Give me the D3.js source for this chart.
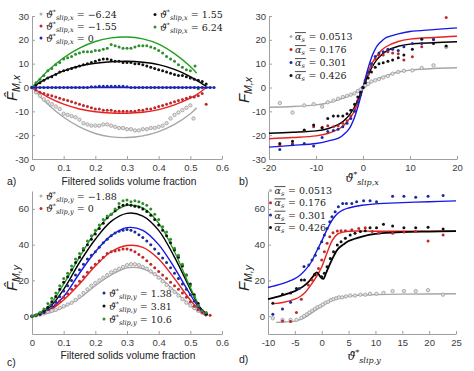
<!DOCTYPE html>
<html>
<head>
<meta charset="utf-8">
<script src="https://cdn.jsdelivr.net/npm/d3@7"></script>
<style>
body { margin: 0; background: #fff; }
.axis path, .axis line { stroke: #a0a0a0; stroke-width: 1; }
.axis text { font-family: "Liberation Sans", Arial, sans-serif; font-size: 9.5px; fill: #3c3c3c; }
</style>
</head>
<body>
<script>
//colours of the series (gray, red, blue, black, green)
var lineCol = { gray: "#a6a6a6", red: "#e8221e", blue: "#1616e8", black: "#000000", green: "#22a022" };
var dotCol = { gray: "#b4b4b4", red: "#c0282d", blue: "#1c2a9c", black: "#111111", green: "#2f8f2f" };

//---------- panel a : F_M,x vs filtered solids fraction ----------
var aStep = 0.0125; //spacing of the filtered fraction bins
var aGreen = [0,2,3.5,5,7,8,9.5,10.5,12,12.5,13,14,14.5,15,15,15,15.5,15.5,16,16.5,18,17.5,17,16.5,16.5,16.5,17,17.5,17.5,17.5,17,16.5,15.5,14.5,13,12,11,9.5,8.5,7.5,7];
var aBlack = [0,1,2,3,4,4.5,5.5,6.5,7,7.5,8,8.5,9,9.5,10,10.5,11,11.5,12,12,11.5,11,11,10.5,10.5,10.5,10,10,9.5,9,8.5,8,7.5,7,6.5,6,5.5,5,5,4.5,4];
var aRed = [0,-1,-2,-2.5,-3,-3.5,-4,-4.5,-5,-5.5,-6,-6.5,-7,-7.5,-8,-8.5,-9,-9,-9.5,-9.5,-9.5,-10,-10,-10,-10,-10,-10,-9.5,-9.5,-9,-9,-8.5,-8,-7.5,-7,-6.5,-6,-5.5,-5,-4.5,-4];
var aGray = [0,-2,-3.5,-5,-6,-7,-8,-9,-11,-11.5,-12,-12.5,-13.5,-15,-15.5,-16,-16,-16,-15.5,-15.5,-16,-16.5,-17,-17,-17.5,-17.5,-18,-18,-17.5,-17.5,-17,-17,-16.5,-16,-15,-13,-11.5,-10.5,-9.5,-8.5,-7.5];
var aBlue = [0,0,0,0,0,0,0,0,0,0,0,0,0,0,0,0.3,0.3,0.5,0.5,0.5,0.5,0.5,0.5,0.5,0.3,0,0,0,0,0,0,0,0,0,0,0,0,0,0,0,0,0,0,0,0,0,0];
//extra points beyond the regular bins
var aGreenEnd = [[0.515, 9], [0.525, -0.5]];
var aBlackEnd = [[0.5125, 3.5], [0.525, 3], [0.5375, 2.5], [0.55, 1.5]];
var aRedEnd = [[0.5125, -4], [0.525, -3.5], [0.5375, -2.5], [0.55, -7]];
var aGrayEnd = [[0.51, -13]];
//model curves
var aCurveX = [0, 0.05, 0.1, 0.15, 0.2, 0.25, 0.3, 0.35, 0.4, 0.45, 0.5, 0.52, 0.55];
var aCurveGreen = [0, 7, 12.5, 16.5, 19.3, 20.8, 21.2, 20.4, 18.2, 14.2, 8.8, 6, null];
var aCurveGray = [0, -7, -12.5, -16.5, -19.3, -20.7, -21, -20.3, -18.5, -15.5, -11, -8.5, null];
var aCurveBlack = [0, 4, 7, 9, 10.2, 10.8, 11, 10.6, 9.6, 7.6, 4.6, 3, 0.5];
var aCurveRed = [0, -4, -7, -9, -10.2, -10.7, -10.8, -10.4, -9.3, -7.3, -4.5, -3, 0];
var aCurveBlue = [0, 0, 0, 0, 0, 0, 0, 0, 0, 0, 0, 0, 0];

//---------- panel b : F_M,x vs slip velocity ----------
var bX = [-17.7,-15,-12.5,-10.5,-8.7,-7.5,-6.3,-5.3,-4.3,-3.4,-2.6,-1.8,-1.1,-0.5,0,0.5,1.1,1.8,2.6,3.4,4.3,5.3,6.3,7.5,8.7,10.5,12.5,15,17.7];
var bGray = [-6.5,-10.5,-7.5,-7,-8,-6.2,-5.5,-4.7,-4,-3.5,-3,-2.5,-1.5,-0.8,0,0.8,1.5,2.5,3,3.5,4.2,4.8,5.8,6.5,7,7.2,8.2,9.3,17];
var bRed = [-24,-23.5,-18,-16.5,-16.7,-16,-16.5,-16,-15,-14,-12,-9,-5.5,-2.5,0,2.5,5.5,9,12,13.5,13.6,15,14.5,14.2,11.5,12.9,17.1,20,29.4];
var bBlue = [-26,-24,-23.5,-24.5,-21,-18.5,-18,-17.5,-16.5,-15,-13,-10,-6,-3,0,3,6.5,10,13,14.5,15,16,16,15.5,17.1,18.5,18.5,20.2,null];
var bBlack = [-23.5,-22.5,-17.8,-15.7,-17,-13,-12,-12,-12,-11,-9.5,-7,-4,-2,0,2,4,6.5,8.5,10,10.4,11,11.5,12.5,13.6,16,20.2,18.5,17.4];
var bCurveX = [-20,-15,-10,-7.5,-5,-4,-3,-2,-1,0,1,2,3,4,5,7.5,10,15,20];
var bCurveBlue = [-25,-24.3,-23.5,-22.5,-21,-19.5,-17.5,-13.5,-7.5,0,7.5,13.5,17.5,19.5,21,22.5,23.5,24.3,25];
var bCurveRed = [-21.5,-21,-20.3,-19.3,-17.2,-15.7,-13.5,-10.5,-6,0,6,10.5,13.5,15.7,17.2,19.3,20.3,21,21.5];
var bCurveBlack = [-19.2,-18.8,-18.2,-17.3,-15.3,-13.8,-11.8,-8.8,-4.7,0,4.7,8.8,11.8,13.8,15.3,17.3,18.2,18.8,19.2];
var bCurveGray = [-8.3,-8,-7.3,-6.5,-5,-4.3,-3.5,-2.5,-1.3,0,1.3,2.5,3.5,4.3,5,6.5,7.3,8,8.3];

//---------- panel c : F_M,y vs filtered solids fraction ----------
var cStep = 0.0125;
var cGreen = [0,0.5,2,4,7,10,13,17,21,24,28,32,35,38,42,45,48,51,54,56,57,60,63,64.5,65,64,64.5,64,63,62,60,57,54,50,47,43,38,34,29,23,17,11,6,3,2];
var cBlack = [0,0.5,1.5,3,5,8,11,15,19,22,26,30,33,37,40,43,46,49,52,55,57,59,61,62,62.5,62,61.5,61,60,58.5,56.5,54,51,48,45,41,37,33,28,23,18,12,7,3,1];
var cBlue = [0,0.5,1,2,4,6,8,11,14,17,20,23,26,29,32,34,36,38.5,41,43,45,46.5,47.5,48,48.5,48,47,45.5,44,42,40,37.5,35,32.5,30,27,24,21,18,15,12,8.5,5.5,3,1.5];
var cRed = [0,0.3,1,2,3.5,5,6.5,8.5,10.5,12.5,15,17,19.5,22,24.5,27,29,31,33,35,36,36.5,37,37.5,37.5,37,36,34.5,33,31,29,27,25,23,21,19,17,15,13,10.5,8,5.5,3.5,2,1,0.5];
var cGray = [0,0.3,0.8,1.5,2.5,3,3.5,4.5,5.5,6.5,7.5,9,11,13,15,17,18.5,20,21.5,23,24.5,25.5,26.5,27.5,28.5,29,29,28.5,27.5,26.5,25,23.5,21.5,19.5,17.5,15.5,13.5,11.5,9.5,7.5,6,4.5,3,2,1];
var cCurveX = [0, 0.05, 0.1, 0.15, 0.2, 0.25, 0.3, 0.35, 0.4, 0.45, 0.5, 0.53, 0.55];
var cCurveGreen = [0, 5, 18, 33, 47, 57, 62, 60.5, 52, 36, 16, 5, null];
var cCurveBlack = [0, 4, 15, 30, 43, 53, 57.5, 56, 48, 33, 15, 5, 1.5];
var cCurveBlue = [0, 3, 11, 24, 36, 45, 49.5, 48, 40, 27, 12, 4, 1];
var cCurveRed = [0, 2.5, 9, 18, 28, 36, 39.5, 38.5, 32, 21, 9, 3, 0];
var cCurveGray = [0, 1.5, 5, 10, 17, 23, 27, 26.5, 22, 14, 6, 2, null];

//---------- panel d : F_M,y vs slip velocity ----------
var dBlue = [[-9.1,1],[-7.3,4],[-5.8,7.7],[-4.2,15.5],[-3.3,27.7],[-2.4,28.6],[-1.8,31.4],[-1.2,34],[-0.6,38],[0,41.6],[0.5,45.4],[1,49],[1.5,52.8],[1.9,55.6],[2.5,58.4],[3.1,61.2],[3.9,63],[4.6,63],[5.6,63],[6.5,64],[7.8,64.5],[9,64.5],[10.2,64],[13.2,67],[15.3,67],[17.5,66.5],[19.8,67],[22.6,67.5]];
var dRed = [[-7.3,-2.7],[-5.8,-3],[-4.7,2],[-3.8,9.4],[-2.5,17.4],[-1.8,20.2],[-1.2,23],[-0.6,26.7],[0,31.4],[0.5,36],[1,40.7],[1.5,44.4],[2.1,46.7],[2.9,47.6],[3.6,47.8],[4.4,47.8],[5.6,48.3],[6.9,49],[8.1,49.4],[9.4,47.4],[10.6,46.4],[13.2,46.4],[15.3,47],[17.5,47.4],[19.8,42],[22.6,45.4]];
var dBlack = [[-9.1,7.2],[-7.3,12.2],[-5.8,13],[-4.7,15.5],[-3.8,20.2],[-3.2,20.2],[-1.3,23.4],[0,22],[0.5,24],[1,27.6],[1.6,32.3],[2.2,36],[2.9,39.8],[3.6,41.6],[4.4,43.5],[5.3,45.4],[6.2,46.4],[7.2,47.4],[8.1,47.8],[9,49.4],[10.2,49.4],[11.5,51.4],[13.2,50.4],[15.3,49.4],[17.5,49.4],[19.8,49.7],[22.6,48.8]];
var dGray = [[-9.1,-1.2],[-7.3,-2.1],[-5.8,-2.1],[-4.7,-2.1],[-3.8,-1],[-3.3,0],[-2.8,1],[-2.3,2],[-1.8,3],[-1.3,4],[-0.8,5],[-0.3,5.5],[0.2,6.5],[0.7,7.5],[1.2,8],[1.7,9],[2.2,9.5],[2.7,10],[3.2,10.5],[3.8,10.5],[4.5,11],[5.3,11.5],[6.2,11.5],[7.2,12],[8.1,12],[9,12.5],[10.2,12.5],[11.5,13],[13.2,14],[15.3,14],[17.5,14],[19.8,14.5],[22.6,12]];
var dCurveBlue = [[-10,16],[-7.5,18],[-5,21],[-4,23],[-3,26],[-2,30],[-1,36],[0,42],[1,48.5],[2,54],[3,57.5],[4,59.5],[5,60.5],[7.5,62],[10,62.8],[15,63.5],[20,64],[25,64.5]];
var dCurveRed = [[-9,7],[-7.5,7.5],[-5,9.5],[-4,11],[-3,13.5],[-2,17.5],[-1,22],[0,27.5],[1,35.5],[2,42.5],[3,46],[4,47],[5,47.5],[10,47.5],[25,47.5]];
var dCurveBlack = [[-10,9.5],[-7.5,11.5],[-5,14],[-3.5,16.5],[-2.5,19],[-1.8,21.5],[-0.9,24.5],[-0.2,21.8],[0.3,20.8],[0.8,24],[1.5,29],[2.3,34],[3,37.5],[4,40],[5,42],[7.5,44.5],[10,46],[15,47],[20,47.3],[25,47.5]];
var dCurveGray = [[-8.5,-3.5],[-7,-3.3],[-5,-2.8],[-4,-2],[-3,-0.5],[-2,1.5],[-1,3.5],[0,5.5],[1,7.5],[2,9],[3,10],[4,10.7],[5,11.2],[7.5,11.8],[10,12],[15,12.3],[25,12.5]];

//legend entries
var aLegLeft = [["gray", "x", "\u22126.24"], ["red", "x", "\u22121.55"], ["blue", "x", "0"]];
var aLegRight = [["black", "x", "1.55"], ["green", "x", "6.24"]];
var cLegTop = [["gray", "y", "\u22121.88"], ["red", "y", "0"]];
var cLegBottom = [["blue", "y", "1.38"], ["black", "y", "3.81"], ["green", "y", "10.6"]];
var alphaLeg = [["gray", "0.0513"], ["red", "0.176"], ["blue", "0.301"], ["black", "0.426"]];

//tick values
var fracTicks = [0, 0.1, 0.2, 0.3, 0.4, 0.5, 0.6];
var xTicksB = [-20, -10, 0, 10, 20];
var yTicksAB = [-30, -20, -10, 0, 10, 20, 30];
var xTicksD = [-10, -5, 0, 5, 10, 15, 20, 25];
var yTicksCD = [0, 20, 40, 60];

(function () {
    var width = 474, height = 371;
    var svg = d3.select("body").append("svg")
        .attr("width", width)
        .attr("height", height);

    var serif = "'DejaVu Serif',serif";
    var sans = "'Liberation Sans',Arial,sans-serif";

    //zip a grid with y values
    function binned(step, ys) {
        return ys.map(function (v, i) { return [i * step, v]; });
    }
    function zipXY(xs, ys) {
        return xs.map(function (v, i) { return [v, ys[i]]; }).filter(function (p) { return p[1] !== null; });
    }

    function makePanel(xDom, xRange, yDom, yRange, xTicks, yTicks, xFmt) {
        var x = d3.scaleLinear().domain(xDom).range(xRange);
        var y = d3.scaleLinear().domain(yDom).range(yRange);
        var g = svg.append("g");
        g.append("g").attr("class", "axis")
            .attr("transform", "translate(0," + yRange[0] + ")")
            .call(d3.axisBottom(x).tickValues(xTicks).tickFormat(xFmt)
                .tickSizeInner(-3).tickSizeOuter(0).tickPadding(5));
        g.append("g").attr("class", "axis")
            .attr("transform", "translate(" + xRange[0] + ",0)")
            .call(d3.axisLeft(y).tickValues(yTicks).tickFormat(function (d) { return String(d); })
                .tickSizeInner(-3).tickSizeOuter(0).tickPadding(3));
        return { g: g, x: x, y: y };
    }

    function drawCurve(p, pts, key, w) {
        var line = d3.line()
            .x(function (d) { return p.x(d[0]); })
            .y(function (d) { return p.y(d[1]); })
            .curve(d3.curveCatmullRom.alpha(0.5));
        p.g.append("path")
            .datum(pts)
            .attr("fill", "none")
            .attr("stroke", lineCol[key])
            .attr("stroke-width", w || 1.4)
            .attr("d", line);
    }

    function drawDots(p, pts, key) {
        p.g.selectAll(null)
            .data(pts)
            .enter()
            .append("circle")
            .attr("cx", function (d) { return p.x(d[0]); })
            .attr("cy", function (d) { return p.y(d[1]); })
            .attr("r", key == "gray" ? 1.7 : 1.5)
            .attr("fill", key == "gray" ? "#e2e2e2" : dotCol[key])
            .attr("stroke", key == "gray" ? "#9a9a9a" : "none")
            .attr("stroke-width", 0.8);
    }

    //theta-tilde star with slip subscript
    function slipText(g, x, y, comp, value, size, anchor) {
        var t = g.append("text")
            .attr("x", x).attr("y", y)
            .attr("font-family", serif)
            .attr("font-size", size)
            .attr("fill", "#222")
            .attr("text-anchor", anchor || "start")
            .style("white-space", "pre");
        t.append("tspan").attr("font-style", "italic").text("\u03d1\u0303");
        t.append("tspan").attr("font-size", size * 0.65).attr("dy", -size * 0.42).text("*");
        t.append("tspan").attr("font-size", size * 0.7).attr("font-style", "italic")
            .attr("dy", size * 0.66).text("slip," + comp);
        if (value !== null) {
            t.append("tspan").attr("dy", -size * 0.24).text(" = " + value);
        }
        return t;
    }

    //alpha bar with s subscript
    function alphaText(g, x, y, value, size) {
        var t = g.append("text")
            .attr("x", x).attr("y", y)
            .attr("font-family", serif)
            .attr("font-size", size)
            .attr("fill", "#222");
        t.append("tspan").attr("font-style", "italic").text("\u03b1");
        t.append("tspan").attr("font-style", "italic").attr("font-size", size * 0.7)
            .attr("dy", size * 0.22).text("s");
        var bb = t.node().getBBox();
        g.append("line")
            .attr("x1", x).attr("x2", x + bb.width + 0.5)
            .attr("y1", y - size * 0.78).attr("y2", y - size * 0.78)
            .attr("stroke", "#222").attr("stroke-width", 0.8);
        g.append("text")
            .attr("x", x + bb.width).attr("y", y)
            .attr("font-family", serif)
            .attr("font-size", size)
            .attr("fill", "#222")
            .style("white-space", "pre")
            .text(" = " + value);
    }

    function legendDot(g, x, y, key) {
        g.append("circle").attr("cx", x).attr("cy", y).attr("r", 1.5)
            .attr("fill", key == "gray" ? "#b0b0b0" : dotCol[key]);
    }

    function yLabel(x, y, comp, hat) {
        var t = svg.append("text")
            .attr("transform", "translate(" + x + "," + y + ") rotate(-90)")
            .attr("text-anchor", "middle")
            .attr("font-family", sans)
            .attr("fill", "#222");
        t.append("tspan").attr("font-style", "italic").attr("font-size", 15).text(hat ? "F\u0302" : "F");
        t.append("tspan").attr("font-style", "italic").attr("font-size", 10.5).attr("dy", 3).text("M," + comp);
    }

    function plainText(x, y, s, size, anchor) {
        svg.append("text")
            .attr("x", x).attr("y", y)
            .attr("font-family", sans)
            .attr("font-size", size)
            .attr("fill", "#222")
            .attr("text-anchor", anchor || "start")
            .text(s);
    }

    var fracFmt = function (d) { return d === 0 ? "0" : d.toFixed(1); };
    var intFmt = function (d) { return String(d); };
    var legSize = 9.5;

    //----- panel a -----
    var pa = makePanel([0, 0.6], [32, 222], [-30, 30], [159, 16], fracTicks, yTicksAB, fracFmt);
    drawCurve(pa, zipXY(aCurveX, aCurveGray), "gray");
    drawCurve(pa, zipXY(aCurveX, aCurveRed), "red");
    drawCurve(pa, zipXY(aCurveX, aCurveBlack), "black");
    drawCurve(pa, zipXY(aCurveX, aCurveGreen), "green");
    drawDots(pa, binned(aStep, aGray).concat(aGrayEnd), "gray");
    drawDots(pa, binned(aStep, aRed).concat(aRedEnd), "red");
    drawDots(pa, binned(aStep, aBlack).concat(aBlackEnd), "black");
    drawDots(pa, binned(aStep, aGreen).concat(aGreenEnd), "green");
    drawCurve(pa, zipXY(aCurveX.concat([0.57]), aCurveBlue.concat([0])), "blue", 1.6);
    drawDots(pa, binned(aStep, aBlue), "blue");
    aLegLeft.forEach(function (e, i) {
        legendDot(svg, 41, 14 + i * 12, e[0]);
        slipText(svg, 46, 17.5 + i * 12, e[1], e[2], legSize);
    });
    aLegRight.forEach(function (e, i) {
        legendDot(svg, 155, 14.5 + i * 12.5, e[0]);
        slipText(svg, 160, 18 + i * 12.5, e[1], e[2], legSize);
    });
    yLabel(17, 88, "x", true);
    plainText(129, 185, "Filtered solids volume fraction", 10.2, "middle");
    plainText(7, 185, "a)", 10.5);

    //----- panel b -----
    var pb = makePanel([-20, 20], [269, 457], [-30, 30], [159, 16], xTicksB, yTicksAB, intFmt);
    drawCurve(pb, zipXY(bCurveX, bCurveGray), "gray");
    drawCurve(pb, zipXY(bCurveX, bCurveRed), "red");
    drawCurve(pb, zipXY(bCurveX, bCurveBlack), "black");
    drawCurve(pb, zipXY(bCurveX, bCurveBlue), "blue");
    drawDots(pb, zipXY(bX, bGray), "gray");
    drawDots(pb, zipXY(bX, bRed), "red");
    drawDots(pb, zipXY(bX, bBlue), "blue");
    drawDots(pb, zipXY(bX, bBlack), "black");
    alphaLeg.forEach(function (e, i) {
        legendDot(svg, 291, 36.5 + i * 13, e[0]);
        alphaText(svg, 295, 40 + i * 13, e[1], legSize);
    });
    yLabel(249, 90, "x", false);
    slipText(svg, 362, 182, "x", null, 11.5, "middle");
    plainText(239, 185, "b)", 10.5);

    //----- panel c -----
    var pc = makePanel([0, 0.6], [32, 222], [-10, 70], [334, 191], fracTicks, yTicksCD, fracFmt);
    drawCurve(pc, zipXY(cCurveX, cCurveGray), "gray");
    drawCurve(pc, zipXY(cCurveX, cCurveRed), "red");
    drawCurve(pc, zipXY(cCurveX, cCurveBlue), "blue");
    drawCurve(pc, zipXY(cCurveX, cCurveBlack), "black");
    drawCurve(pc, zipXY(cCurveX, cCurveGreen), "green");
    drawDots(pc, binned(cStep, cGray), "gray");
    drawDots(pc, binned(cStep, cRed), "red");
    drawDots(pc, binned(cStep, cBlue), "blue");
    drawDots(pc, binned(cStep, cBlack), "black");
    drawDots(pc, binned(cStep, cGreen), "green");
    cLegTop.forEach(function (e, i) {
        legendDot(svg, 41, 196 + i * 12.5, e[0]);
        slipText(svg, 46, 199.5 + i * 12.5, e[1], e[2], legSize);
    });
    cLegBottom.forEach(function (e, i) {
        legendDot(svg, 104, 293 + i * 13, e[0]);
        slipText(svg, 109, 296.5 + i * 13, e[1], e[2], legSize);
    });
    yLabel(17, 278, "y", true);
    plainText(128, 359, "Filtered solids volume fraction", 10.2, "middle");
    plainText(7, 366, "c)", 10.5);

    //----- panel d -----
    var pd = makePanel([-10, 25], [268, 456], [-10, 70], [334, 191], xTicksD, yTicksCD, intFmt);
    drawCurve(pd, dCurveGray, "gray");
    drawCurve(pd, dCurveRed, "red");
    drawCurve(pd, dCurveBlack, "black", 1.8);
    drawCurve(pd, dCurveBlue, "blue");
    drawDots(pd, dGray, "gray");
    drawDots(pd, dRed, "red");
    drawDots(pd, dBlue, "blue");
    drawDots(pd, dBlack, "black");
    alphaLeg.forEach(function (e, i) {
        legendDot(svg, 270.5, 190.5 + i * 12.3, e[0]);
        alphaText(svg, 274.5, 194 + i * 12.3, e[1], legSize);
    });
    yLabel(249, 278, "y", false);
    slipText(svg, 364, 360, "y", null, 11.5, "middle");
    plainText(239, 363, "d)", 10.5);
})();
</script>
</body>
</html>
